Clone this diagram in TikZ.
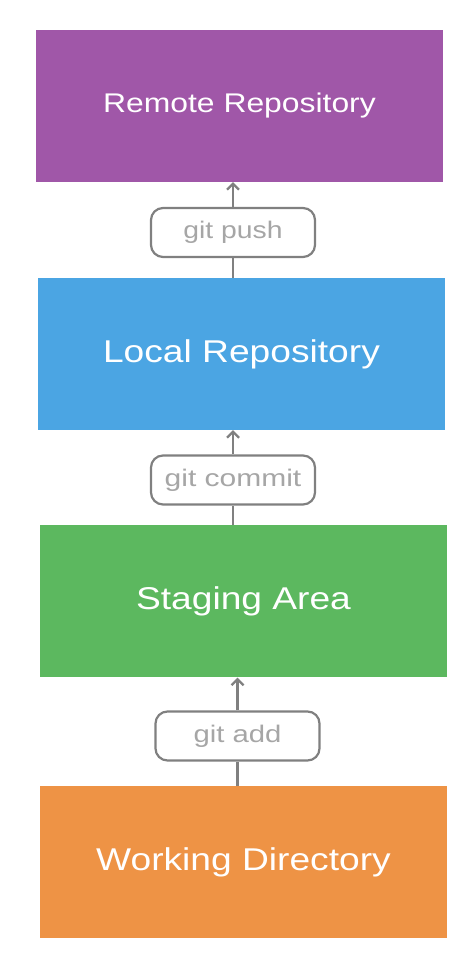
\documentclass[tikz,border=0pt]{standalone}
\usepackage{fontspec}
\usepackage{graphicx}
\setmainfont{Liberation Sans}
\usetikzlibrary{arrows.meta}
\definecolor{cpurple}{HTML}{A057A8}
\definecolor{cblue}{HTML}{4BA5E3}
\definecolor{cgreen}{HTML}{5CB85F}
\definecolor{corange}{HTML}{EE9345}
\definecolor{cline}{HTML}{808080}
\definecolor{ctext}{HTML}{A6A6A6}
\newcommand{\widetxt}[2]{\scalebox{#1}[1]{#2}}
\tikzset{
  stage/.style={draw=none, minimum width=407pt, minimum height=152pt, inner sep=0pt, text=white, font=\fontsize{31.5}{34}\selectfont},
  cmdbox/.style={draw=cline, line width=2.2pt, rounded corners=12pt, fill=white, minimum width=164pt, minimum height=49pt, inner sep=0pt, text=ctext, font=\fontsize{24}{26}\selectfont},
  flow/.style={draw=cline, line width=2.2pt},
  flowarrow/.style={flow, -{Straight Barb[length=6pt,width=12pt,line width=2.2pt]}}
}
\begin{document}
\begin{tikzpicture}[x=1pt,y=1pt]
\useasboundingbox (0,0) rectangle (474,965);
\node[stage, fill=cpurple, font=\fontsize{27}{30}\selectfont] (remote) at (239.5,859) {\widetxt{1.18}{Remote Repository}};
\node[stage, fill=cblue] (local) at (241.5,611) {\widetxt{1.18}{Local Repository}};
\node[stage, fill=cgreen] (staging) at (243.5,363.5) {\widetxt{1.18}{Staging Area}};
\node[stage, fill=corange] (working) at (243.5,102.5) {\widetxt{1.18}{Working Directory}};
\node[cmdbox] (push) at (233,732.5) {\widetxt{1.18}{git push}};
\node[cmdbox] (commit) at (233,485) {\widetxt{1.25}{git commit}};
\node[cmdbox] (add) at (237.5,229) {\widetxt{1.22}{git add}};
\draw[flow] (local.north -| push.south) -- (push.south);
\draw[flowarrow] (push.north) -- (push.north |- remote.south);
\draw[flow] (staging.north -| commit.south) -- (commit.south);
\draw[flowarrow] (commit.north) -- (commit.north |- local.south);
\draw[flow] (working.north -| add.south) -- (add.south);
\draw[flowarrow] (add.north) -- (add.north |- staging.south);
\end{tikzpicture}
\end{document}
